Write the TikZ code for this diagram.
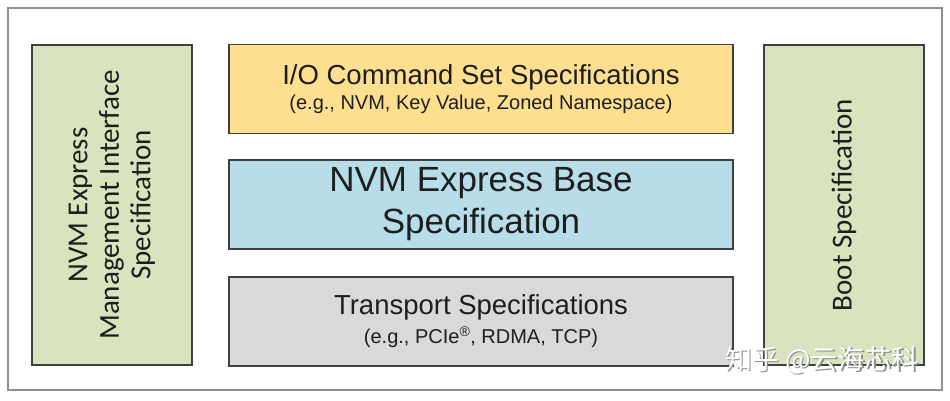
\documentclass[tikz,border=0pt]{standalone}
\usepackage{fontspec}
\setmainfont{Liberation Sans}
\newfontfamily\calibrifont{Carlito}
\newfontfamily\cjk{Noto Sans CJK SC}
\definecolor{framegray}{HTML}{8E8E8E}
\definecolor{boxline}{HTML}{404040}
\definecolor{textdark}{HTML}{1E1E1E}
\definecolor{sidegreen}{HTML}{D7E4BD}
\definecolor{ioyellow}{HTML}{FDDF8F}
\definecolor{baseblue}{HTML}{B7DEE8}
\definecolor{transgray}{HTML}{D9D9D9}

\begin{document}
\begin{tikzpicture}[x=1pt,y=-1pt,
	spec/.style={draw=boxline, line width=1.4pt, align=center, inner sep=0pt, text=textdark},
	side/.style={spec, fill=sidegreen, rotate=90, minimum width=320pt, minimum height=160pt, font=\calibrifont\fontsize{29}{31.5}\selectfont},
	layer/.style={spec, minimum width=504pt, minimum height=89pt}]
		\useasboundingbox (0,0) rectangle (950,401);
		\node[draw=framegray, line width=2.2pt, minimum width=934pt, minimum height=382pt	] (FRAME) 		at (475,199) {};

		\node[side												] (MGMT) 		at (112,205) {NVM Express\\Management Interface\\Specification};
		\node[side												] (BOOT) 		at (844,205) {Boot Specification};

		\node[layer, fill=ioyellow, font=\fontsize{27.5}{25}\selectfont	] (IO_CMD) 		at (481,89) {I/O Command Set Specifications\\{\fontsize{20}{25}\selectfont (e.g., NVM, Key Value, Zoned Namespace)}};
		\node[layer, fill=baseblue, font=\fontsize{35}{42}\selectfont		] (BASE) 		at (481,204.5) {NVM Express Base\\Specification};
		\node[layer, fill=transgray, font=\fontsize{27.5}{29}\selectfont	] (TRANSPORT) 	at (481,321.5) {Transport Specifications\\{\fontsize{20}{29}\selectfont (e.g., PCIe\textsuperscript{\textregistered}, RDMA, TCP)}};

		% watermark
		\node[font=\cjk\fontsize{27}{27}\selectfont, text=black!45	] (MARK_SHADOW) 	at (823.5,361.5) {知乎 @云海芯科};
		\node[font=\cjk\fontsize{27}{27}\selectfont, text=white		] (MARK) 		at (822,360) {知乎 @云海芯科};
	\end{tikzpicture}
\end{document}
